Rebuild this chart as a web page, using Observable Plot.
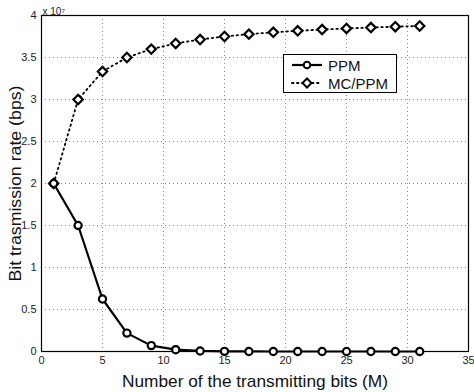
<!DOCTYPE html>
<html>
<head>
<meta charset="utf-8">
<script src="https://cdn.jsdelivr.net/npm/d3@7"></script>
<script src="https://cdn.jsdelivr.net/npm/@observablehq/plot@0.6"></script>
<style>
  body { margin: 0; background: #fff; }
  #wrap { position: relative; width: 474px; height: 392px; font-family: "Liberation Sans", Arial, sans-serif; }
  #legend { position: absolute; left: 283px; top: 54px; width: 112px; height: 37px; border: 1px solid #000; background: #fff; font-size: 15px; color: #111; }
  #legend .row { position: absolute; left: 0; height: 18px; display: flex; align-items: center; }
  #legend svg { display: block; }
</style>
</head>
<body>
<div id="wrap"></div>
<script>
// x: number of transmitting bits (M); y: bit rate in units of 1e7 bps
const bits = [1, 3, 5, 7, 9, 11, 13, 15, 17, 19, 21, 23, 25, 27, 29, 31];
const ppm = [2.0, 1.5, 0.625, 0.219, 0.070, 0.0215, 0.0063, 0.0018, 0.0005, 0.0001, 0, 0, 0, 0, 0, 0];
const mcppm = [2.0, 3.0, 3.333, 3.5, 3.6, 3.667, 3.714, 3.75, 3.778, 3.8, 3.818, 3.833, 3.846, 3.857, 3.867, 3.875];
const xTicks = [0, 5, 10, 15, 20, 25, 30, 35];
const yTicks = [0, 0.5, 1, 1.5, 2, 2.5, 3, 3.5, 4];
const xLabel = "Number of the transmitting bits (M)";
const yLabel = "Bit trasmission rate (bps)";
const seriesNames = ["PPM", "MC/PPM"];

const rows = bits.flatMap((b, i) => [
  {x: b, y: ppm[i], s: seriesNames[0]},
  {x: b, y: mcppm[i], s: seriesNames[1]}
]);
const ppmRows = rows.filter(d => d.s === "PPM");
const mcRows = rows.filter(d => d.s === "MC/PPM");

const chart = Plot.plot({
  width: 474,
  height: 392,
  marginLeft: 41,
  marginRight: 6,
  marginTop: 15,
  marginBottom: 41,
  style: {fontFamily: "Liberation Sans, Arial, sans-serif", background: "#fff", color: "#222"},
  x: {domain: [0, 35], ticks: xTicks},
  y: {domain: [0, 4], ticks: yTicks},
  marks: [
    Plot.gridX(xTicks.filter(t => t > 0 && t < 35), {stroke: "#888", strokeOpacity: 1, strokeDasharray: "1,3", strokeWidth: 1}),
    Plot.gridY(yTicks.filter(t => t > 0 && t < 4), {stroke: "#888", strokeOpacity: 1, strokeDasharray: "1,3", strokeWidth: 1}),
    Plot.axisX(xTicks, {tickSize: 0, tickPadding: 5, fontSize: 11, label: null, tickFormat: d => String(d)}),
    Plot.axisY(yTicks, {tickSize: 0, tickPadding: 5, fontSize: 11, label: null, tickFormat: d => String(d)}),
    Plot.frame({stroke: "#000", strokeWidth: 1.2}),
    Plot.line(mcRows, {x: "x", y: "y", stroke: "#000", strokeWidth: 1.8, strokeDasharray: "1.5,3.5", strokeLinecap: "round"}),
    Plot.line(ppmRows, {x: "x", y: "y", stroke: "#000", strokeWidth: 2.2}),
    Plot.dot(mcRows, {x: "x", y: "y", symbol: "diamond2", r: 4.2, stroke: "#000", strokeWidth: 2.2, fill: "#fff"}),
    Plot.dot(ppmRows, {x: "x", y: "y", symbol: "circle", r: 3.6, stroke: "#000", strokeWidth: 2.2, fill: "#fff"}),
    Plot.text([xLabel], {frameAnchor: "bottom", dy: 30, fontSize: 17, fill: "#111", lineAnchor: "middle", className: "xlab"}),
    Plot.text([yLabel], {frameAnchor: "left", dx: -26, rotate: -90, textAnchor: "middle", lineAnchor: "middle", fontSize: 17, fill: "#111", className: "ylab"}),
    Plot.text(["x 10\u2077"], {frameAnchor: "top-left", dy: -8, dx: 1, textAnchor: "start", fontSize: 10, fill: "#222"})
  ]
});
// the reference's axis titles are set in a narrow face: compress them to its measured lengths
d3.select(chart).selectAll(".xlab text").attr("textLength", 266).attr("lengthAdjust", "spacingAndGlyphs");
d3.select(chart).selectAll(".ylab text").attr("textLength", 196).attr("lengthAdjust", "spacingAndGlyphs");
document.getElementById("wrap").appendChild(chart);

// legend
const legend = document.createElement("div");
legend.id = "legend";
legend.innerHTML = `
  <div class="row" style="top:1px">
    <svg width="44" height="18"><line x1="8" x2="38" y1="9" y2="9" stroke="#000" stroke-width="2.2"/><circle cx="23" cy="9" r="3.3" fill="#fff" stroke="#000" stroke-width="2"/></svg>
    <span>${seriesNames[0]}</span>
  </div>
  <div class="row" style="top:19px">
    <svg width="44" height="18"><line x1="8" x2="38" y1="9" y2="9" stroke="#000" stroke-width="1.8" stroke-dasharray="1.5,3.5" stroke-linecap="round"/><path d="M23,4.5 L27.5,9 L23,13.5 L18.5,9 Z" fill="#fff" stroke="#000" stroke-width="2"/></svg>
    <span>${seriesNames[1]}</span>
  </div>`;
document.getElementById("wrap").appendChild(legend);
</script>
</body>
</html>
